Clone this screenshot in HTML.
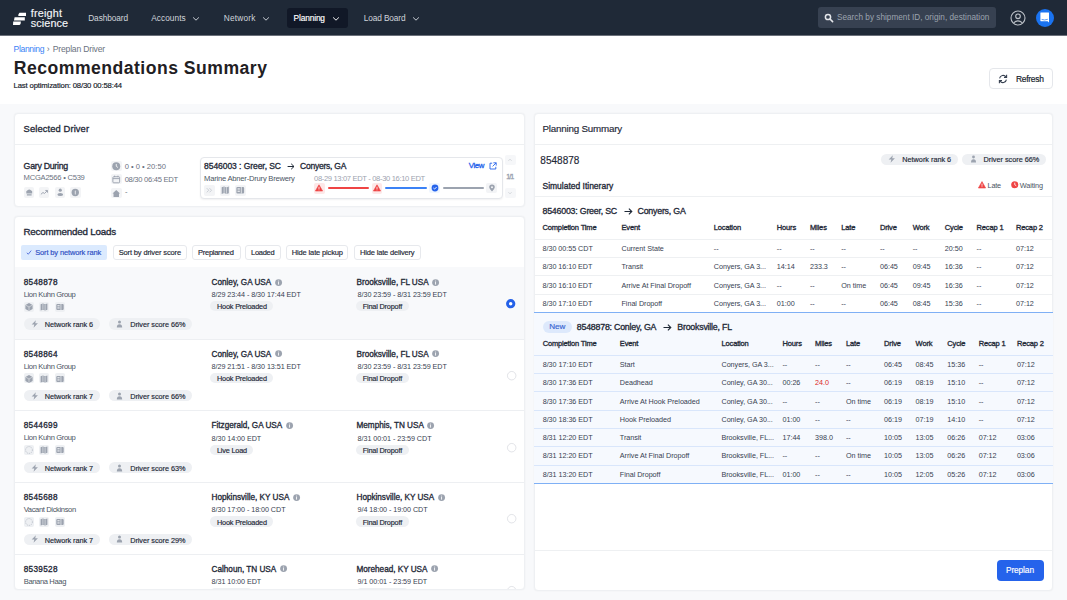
<!DOCTYPE html>
<html><head><meta charset="utf-8"><title>Recommendations Summary</title>
<style>
html,body{margin:0;padding:0;}
body{width:1067px;height:600px;position:relative;overflow:hidden;background:#f8f9fb;font-family:"Liberation Sans",sans-serif;}
.t{position:absolute;white-space:nowrap;line-height:1;}
.b{position:absolute;}
svg.b{overflow:visible;}
</style></head><body>
<div class="b" style="left:0px;top:0px;width:1067px;height:35px;background:#1f2937;"></div>
<svg class="b" style="left:12px;top:11px" width="16" height="16" viewBox="0 0 16 16"><path d="M7.5 1.7 H14 V5 H6.3 Q6 3.2 7.5 1.7Z" fill="#fff"/><path d="M2.6 6.2 H12.8 V9.5 H2 Z" fill="#fff"/><path d="M1.2 10.4 H8.9 Q9 12.6 7.6 14 H1 Z" fill="#fff"/></svg>
<div class="t" style="left:30.80px;top:7.76px;font-size:10.8px;-webkit-text-stroke-width:0.16px;color:#f3f4f6;letter-spacing:0.197px;">freight</div>
<div class="t" style="left:30.80px;top:17.66px;font-size:10.8px;-webkit-text-stroke-width:0.16px;color:#f3f4f6;letter-spacing:0.097px;">science</div>
<div class="t" style="left:88.20px;top:13.97px;font-size:8.3px;color:#d1d5db;letter-spacing:-0.076px;">Dashboard</div>
<div class="t" style="left:151.20px;top:13.97px;font-size:8.3px;color:#d1d5db;letter-spacing:0.051px;">Accounts</div>
<div class="t" style="left:223.70px;top:13.97px;font-size:8.3px;color:#d1d5db;letter-spacing:0.227px;">Network</div>
<div class="b" style="left:287px;top:8px;width:61px;height:20px;background:#111827;border-radius:3px;"></div>
<div class="t" style="left:293.60px;top:13.97px;font-size:8.3px;-webkit-text-stroke-width:0.16px;color:#ffffff;letter-spacing:-0.129px;">Planning</div>
<div class="t" style="left:363.70px;top:13.97px;font-size:8.3px;color:#d1d5db;letter-spacing:-0.113px;">Load Board</div>
<svg class="b" style="left:192px;top:15.7px" width="8" height="6" viewBox="0 0 8 6"><path d="M1.4 1.7 L4 4.2 L6.6 1.7" fill="none" stroke="#d1d5db" stroke-width="0.95" stroke-linecap="round" stroke-linejoin="round"/></svg>
<svg class="b" style="left:261.6px;top:15.7px" width="8" height="6" viewBox="0 0 8 6"><path d="M1.4 1.7 L4 4.2 L6.6 1.7" fill="none" stroke="#d1d5db" stroke-width="0.95" stroke-linecap="round" stroke-linejoin="round"/></svg>
<svg class="b" style="left:331.8px;top:15.7px" width="8" height="6" viewBox="0 0 8 6"><path d="M1.4 1.7 L4 4.2 L6.6 1.7" fill="none" stroke="#fff" stroke-width="0.95" stroke-linecap="round" stroke-linejoin="round"/></svg>
<svg class="b" style="left:411.6px;top:15.7px" width="8" height="6" viewBox="0 0 8 6"><path d="M1.4 1.7 L4 4.2 L6.6 1.7" fill="none" stroke="#d1d5db" stroke-width="0.95" stroke-linecap="round" stroke-linejoin="round"/></svg>
<div class="b" style="left:818px;top:7px;width:178px;height:21px;background:#374151;border-radius:3px;"></div>
<svg class="b" style="left:824px;top:13px" width="10" height="10" viewBox="0 0 10 10"><circle cx="4" cy="4" r="2.6" fill="none" stroke="#e5e7eb" stroke-width="1.5"/><path d="M6 6 L8.6 8.6" stroke="#e5e7eb" stroke-width="1.6" stroke-linecap="round"/></svg>
<div class="t" style="left:837.00px;top:13.56px;font-size:8.2px;color:#9ca3af;letter-spacing:0.018px;">Search by shipment ID, origin, destination</div>
<svg class="b" style="left:1010px;top:10px" width="16" height="16" viewBox="0 0 16 16"><circle cx="8" cy="8" r="7" fill="none" stroke="#bcc1c8" stroke-width="1.1"/><circle cx="8" cy="6.3" r="2.3" fill="none" stroke="#bcc1c8" stroke-width="1.1"/><path d="M3.6 12.8 Q8 8.8 12.4 12.8" fill="none" stroke="#bcc1c8" stroke-width="1.1"/></svg>
<svg class="b" style="left:1036px;top:9px" width="18" height="18" viewBox="0 0 18 18"><circle cx="9" cy="9" r="9" fill="#1a73f0"/><path d="M4.4 3.8 Q4.4 3.4 4.8 3.4 H12.6 Q13 3.4 13 3.8 V13.4 L11.6 12.2 H4.8 Q4.4 12.2 4.4 11.8 Z" fill="#fff"/><path d="M5.6 10.4 Q8.6 11.6 11.8 10.3" fill="none" stroke="#1a73f0" stroke-width="0.7"/></svg>
<div class="b" style="left:0px;top:35px;width:1067px;height:68.6px;background:#fff;border-bottom:1px solid #e8eaed;"></div>
<div class="b" style="left:0px;top:35px;width:1067px;height:1px;background:linear-gradient(#1a2230,#9a9ea6);opacity:0.9;"></div>
<div class="t" style="left:13.60px;top:44.92px;font-size:8.6px;color:#3b82f6;letter-spacing:-0.367px;">Planning</div>
<div class="t" style="left:46.80px;top:44.72px;font-size:8.6px;color:#6b7280;">›</div>
<div class="t" style="left:52.80px;top:44.92px;font-size:8.6px;color:#6b7280;letter-spacing:-0.197px;">Preplan Driver</div>
<div class="t" style="left:13.80px;top:60.30px;font-size:17.6px;font-weight:bold;color:#1f2023;letter-spacing:0.484px;">Recommendations Summary</div>
<div class="t" style="left:13.60px;top:81.68px;font-size:7.7px;-webkit-text-stroke-width:0.16px;color:#111827;letter-spacing:-0.148px;">Last optimization: 08/30 00:58:44</div>
<div class="b" style="left:988.6px;top:68.2px;width:64.8px;height:21.3px;background:#fff;border:1px solid #e5e7eb;border-radius:4px;box-sizing:border-box;"></div>
<svg class="b" style="left:998px;top:74px" width="10" height="10" viewBox="0 0 10 10"><path d="M1.6 4.4 A3.5 3.5 0 0 1 8 3" fill="none" stroke="#374151" stroke-width="1.1"/><path d="M8.6 0.8 V3.4 H6" fill="none" stroke="#374151" stroke-width="1.1"/><path d="M8.4 5.6 A3.5 3.5 0 0 1 2 7" fill="none" stroke="#374151" stroke-width="1.1"/><path d="M1.4 9.2 V6.6 H4" fill="none" stroke="#374151" stroke-width="1.1"/></svg>
<div class="t" style="left:1015.90px;top:74.80px;font-size:8.5px;-webkit-text-stroke-width:0.16px;color:#111827;letter-spacing:-0.277px;">Refresh</div>
<div class="b" style="left:0px;top:104px;width:1067px;height:496px;background:#f8f9fb;"></div>
<div class="b" style="left:14.4px;top:112.8px;width:510.4px;height:94.4px;background:#fff;border:1px solid #eef0f3;border-radius:4px;box-sizing:border-box;box-shadow:0 0 2px rgba(16,24,40,0.05);"></div>
<div class="b" style="left:15.4px;top:144px;width:508.4px;height:1px;background:#eef0f2;"></div>
<div class="t" style="left:23.60px;top:124.44px;font-size:9.4px;-webkit-text-stroke-width:0.32px;color:#1f2937;letter-spacing:0.096px;">Selected Driver</div>
<div class="t" style="left:23.60px;top:162.05px;font-size:8.8px;-webkit-text-stroke-width:0.32px;color:#1f2937;letter-spacing:-0.284px;">Gary During</div>
<div class="t" style="left:23.60px;top:174.37px;font-size:7.6px;color:#6b7280;letter-spacing:-0.247px;">MCGA2566 • C539</div>
<div class="b" style="left:23.6px;top:187.3px;width:10.5px;height:10.5px;background:#f3f4f6;border-radius:2px;"></div>
<svg class="b" style="left:23.6px;top:187.3px" width="10.5" height="10.5" viewBox="0 0 10 10"><path d="M2.2 6.3 Q1.6 3.6 3.4 3.2 Q5 1.6 6.6 3.2 Q8.4 3.6 7.8 6.3 Z" fill="#9ca3af"/><rect x="2.6" y="6.9" width="4.8" height="1.2" rx="0.4" fill="#9ca3af"/></svg>
<div class="b" style="left:38.9px;top:187.3px;width:10.5px;height:10.5px;background:#f3f4f6;border-radius:2px;"></div>
<svg class="b" style="left:38.9px;top:187.3px" width="10.5" height="10.5" viewBox="0 0 10 10"><path d="M1.8 7 L3.8 5.2 L5.2 6.2 L7.8 3.6 M6 3.3 H8.1 V5.4" fill="none" stroke="#9ca3af" stroke-width="0.9"/></svg>
<div class="b" style="left:54.6px;top:187.3px;width:10.5px;height:10.5px;background:#f3f4f6;border-radius:2px;"></div>
<svg class="b" style="left:54.6px;top:187.3px" width="10.5" height="10.5" viewBox="0 0 10 10"><circle cx="5" cy="3" r="1.5" fill="#9ca3af"/><ellipse cx="5" cy="7.1" rx="2.7" ry="1.5" fill="#9ca3af"/></svg>
<div class="b" style="left:70.3px;top:187.3px;width:10.5px;height:10.5px;background:#f3f4f6;border-radius:2px;"></div>
<svg class="b" style="left:70.3px;top:187.3px" width="10.5" height="10.5" viewBox="0 0 10 10"><circle cx="5" cy="5.2" r="3.5" fill="#9ca3af"/><rect x="4.6" y="3.4" width="0.8" height="3.8" rx="0.3" fill="#f3f4f6"/></svg>
<div class="b" style="left:111.1px;top:160.8px;width:10.8px;height:10.3px;background:#f3f4f6;border-radius:2px;"></div>
<svg class="b" style="left:111.3px;top:160.8px" width="10.5" height="10.5" viewBox="0 0 10 10"><circle cx="5" cy="5" r="3.8" fill="#9ca3af"/><path d="M5 2.8 V5 L6.6 6.2" fill="none" stroke="#fff" stroke-width="0.8"/></svg>
<div class="b" style="left:111.1px;top:173.9px;width:10.8px;height:10.3px;background:#f3f4f6;border-radius:2px;"></div>
<svg class="b" style="left:111.3px;top:173.9px" width="10.5" height="10.5" viewBox="0 0 10 10"><rect x="1.8" y="2.6" width="6.4" height="5.8" rx="0.8" fill="none" stroke="#9ca3af" stroke-width="0.9"/><path d="M1.8 4.4 H8.2 M3.4 1.6 V3 M6.6 1.6 V3" stroke="#9ca3af" stroke-width="0.9"/></svg>
<div class="b" style="left:111.1px;top:187.5px;width:10.8px;height:10.3px;background:#f3f4f6;border-radius:2px;"></div>
<svg class="b" style="left:111.3px;top:187.5px" width="10.5" height="10.5" viewBox="0 0 10 10"><path d="M1.4 5.2 L5 1.8 L8.6 5.2 H7.6 V8.6 H2.4 V5.2 Z" fill="#9ca3af"/></svg>
<div class="t" style="left:124.70px;top:162.67px;font-size:7.6px;color:#6b7280;letter-spacing:-0.003px;">0 • 0 • 20:50</div>
<div class="t" style="left:124.70px;top:175.77px;font-size:7.6px;color:#6b7280;letter-spacing:-0.290px;">08/30 06:45 EDT</div>
<div class="t" style="left:125.00px;top:187.77px;font-size:7.6px;color:#6b7280;">-</div>
<div class="b" style="left:199.5px;top:156.5px;width:303px;height:42px;background:#fff;border:1px solid #e5e7eb;border-radius:4px;box-sizing:border-box;box-shadow:0 1px 2px rgba(16,24,40,0.06);"></div>
<div class="t" style="left:204.10px;top:161.80px;font-size:8.5px;-webkit-text-stroke-width:0.32px;color:#1f2937;letter-spacing:-0.059px;">8546003 : Greer, SC</div>
<svg class="b" style="left:287px;top:162.5px" width="8" height="7" viewBox="0 0 8 7"><path d="M0.6 3.5 H7 M4.2 0.8 L7 3.5 L4.2 6.2" fill="none" stroke="#1f2937" stroke-width="1"/></svg>
<div class="t" style="left:300.00px;top:161.80px;font-size:8.5px;-webkit-text-stroke-width:0.32px;color:#1f2937;letter-spacing:-0.236px;">Conyers, GA</div>
<div class="t" style="left:468.80px;top:161.90px;font-size:7.8px;-webkit-text-stroke-width:0.32px;color:#2563eb;letter-spacing:-0.422px;">View</div>
<svg class="b" style="left:489px;top:162px" width="8" height="8" viewBox="0 0 8 8"><path d="M3.2 1.2 H1 V7 H6.8 V4.8" fill="none" stroke="#2563eb" stroke-width="0.9"/><path d="M4.4 0.8 H7.2 V3.6 M7.2 0.8 L3.6 4.4" fill="none" stroke="#2563eb" stroke-width="0.9"/></svg>
<div class="t" style="left:204.10px;top:174.57px;font-size:7.6px;color:#4b5563;letter-spacing:-0.216px;">Marine Abner-Drury Brewery</div>
<div class="t" style="left:314.00px;top:174.87px;font-size:7.6px;color:#9ca3af;letter-spacing:-0.346px;">08-29 13:07 EDT - 08-30 16:10 EDT</div>
<div class="b" style="left:203.9px;top:185.4px;width:10.7px;height:10.2px;background:#f3f4f6;border-radius:2px;"></div>
<svg class="b" style="left:204.0px;top:185.4px" width="10.5" height="10.5" viewBox="0 0 10 10"><path d="M2.6 3 L4.6 5 L2.6 7 M5.2 3 L7.2 5 L5.2 7" fill="none" stroke="#c4c8cf" stroke-width="0.8"/></svg>
<div class="b" style="left:219.7px;top:185.4px;width:10.7px;height:10.2px;background:#f3f4f6;border-radius:2px;"></div>
<svg class="b" style="left:219.79999999999998px;top:185.4px" width="10.5" height="10.5" viewBox="0 0 10 10"><path d="M1.6 2.2 L3.9 1.4 L6.1 2.3 L8.4 1.5 V7.8 L6.1 8.6 L3.9 7.7 L1.6 8.5 Z" fill="#9ca3af"/><path d="M3.9 1.6 V7.6 M6.1 2.4 V8.4" stroke="#f3f4f6" stroke-width="0.6"/></svg>
<div class="b" style="left:235.3px;top:185.4px;width:10.7px;height:10.2px;background:#f3f4f6;border-radius:2px;"></div>
<svg class="b" style="left:235.4px;top:185.4px" width="10.5" height="10.5" viewBox="0 0 10 10"><rect x="1.3" y="1.9" width="7.4" height="6.2" rx="1" fill="#9ca3af"/><rect x="2.4" y="3.2" width="2.2" height="1.1" fill="#f3f4f6"/><rect x="2.4" y="5.4" width="2.2" height="1.1" fill="#f3f4f6"/><rect x="5.6" y="1.9" width="0.7" height="6.2" fill="#f3f4f6"/></svg>
<div class="b" style="left:314px;top:182.89999999999998px;width:10.8px;height:10.9px;background:#fde8e8;border-radius:2px;"></div>
<svg class="b" style="left:314.4px;top:183.2px" width="10" height="10" viewBox="0 0 10 10"><path d="M5 1.8 L8.6 8 H1.4 Z" fill="#ef4444" stroke="#ef4444" stroke-width="0.6" stroke-linejoin="round"/><rect x="4.6" y="3.8" width="0.8" height="2.2" fill="#fff"/><rect x="4.6" y="6.5" width="0.8" height="0.8" fill="#fff"/></svg>
<div class="b" style="left:327.7px;top:187.4px;width:41.1px;height:2px;background:#ef4444;border-radius:1px;"></div>
<div class="b" style="left:371.5px;top:182.89999999999998px;width:10.8px;height:10.9px;background:#fde8e8;border-radius:2px;"></div>
<svg class="b" style="left:371.9px;top:183.2px" width="10" height="10" viewBox="0 0 10 10"><path d="M5 1.8 L8.6 8 H1.4 Z" fill="#ef4444" stroke="#ef4444" stroke-width="0.6" stroke-linejoin="round"/><rect x="4.6" y="3.8" width="0.8" height="2.2" fill="#fff"/><rect x="4.6" y="6.5" width="0.8" height="0.8" fill="#fff"/></svg>
<div class="b" style="left:385px;top:187.4px;width:41.5px;height:2px;background:#3b82f6;border-radius:1px;"></div>
<div class="b" style="left:429.3px;top:183.2px;width:10.8px;height:10.2px;background:#eff6ff;border-radius:2px;"></div>
<svg class="b" style="left:429.7px;top:183.2px" width="10" height="10" viewBox="0 0 10 10"><circle cx="5" cy="5" r="3.4" fill="#2563eb"/><path d="M3.4 5 L4.6 6.1 L6.6 4" fill="none" stroke="#fff" stroke-width="0.9"/></svg>
<div class="b" style="left:442.6px;top:187.4px;width:41.1px;height:2px;background:#9ca3af;border-radius:1px;"></div>
<div class="b" style="left:486.3px;top:183.2px;width:10.8px;height:10.2px;background:#f3f4f6;border-radius:2px;"></div>
<svg class="b" style="left:486.7px;top:183.2px" width="10" height="10" viewBox="0 0 10 10"><path d="M5 8.6 Q2.2 5.6 2.2 4.2 A2.8 2.8 0 0 1 7.8 4.2 Q7.8 5.6 5 8.6 Z" fill="#9ca3af"/><circle cx="5" cy="4.2" r="1" fill="#f3f4f6"/></svg>
<div class="b" style="left:505px;top:155px;width:10.5px;height:9.5px;background:#f6f7f9;border-radius:2px;"></div>
<svg class="b" style="left:506px;top:156px" width="8" height="8" viewBox="0 0 8 8"><path d="M2.4 4.8 L4 3.2 L5.6 4.8" fill="none" stroke="#c4c8cf" stroke-width="0.7"/></svg>
<div class="t" style="left:506.30px;top:172.51px;font-size:7.2px;-webkit-text-stroke-width:0.32px;color:#9ca3af;letter-spacing:-1.055px;">1/1</div>
<div class="b" style="left:505px;top:188.3px;width:10.5px;height:9.5px;background:#f6f7f9;border-radius:2px;"></div>
<svg class="b" style="left:506px;top:189px" width="8" height="8" viewBox="0 0 8 8"><path d="M2.4 3.2 L4 4.8 L5.6 3.2" fill="none" stroke="#c4c8cf" stroke-width="0.7"/></svg>
<div class="b" style="left:14.4px;top:216px;width:510.4px;height:373.7px;background:#fff;border:1px solid #eef0f3;border-radius:4px;box-sizing:border-box;box-shadow:0 0 2px rgba(16,24,40,0.05);overflow:hidden;"></div>
<div class="t" style="left:23.40px;top:227.20px;font-size:9.8px;-webkit-text-stroke-width:0.32px;color:#1f2937;letter-spacing:-0.193px;">Recommended Loads</div>
<div class="b" style="left:21.3px;top:245.3px;width:86.2px;height:15px;background:#dbeafe;border-radius:2px;"></div>
<svg class="b" style="left:25.5px;top:249px" width="6" height="7" viewBox="0 0 6 7"><path d="M0.8 3.8 L2.3 5.2 L5.2 1.6" fill="none" stroke="#3b5bd6" stroke-width="0.8"/></svg>
<div class="t" style="left:35.20px;top:249.35px;font-size:7.5px;-webkit-text-stroke-width:0.16px;color:#2f4fc4;letter-spacing:-0.141px;">Sort by network rank</div>
<div class="b" style="left:112.7px;top:245.3px;width:74.3px;height:15px;background:#fff;border:1px solid #e7e9ed;border-radius:3px;box-sizing:border-box;"></div>
<div class="t" style="left:118.70px;top:249.35px;font-size:7.5px;-webkit-text-stroke-width:0.16px;color:#1f2937;letter-spacing:-0.138px;">Sort by driver score</div>
<div class="b" style="left:191.9px;top:245.3px;width:48.69999999999999px;height:15px;background:#fff;border:1px solid #e7e9ed;border-radius:3px;box-sizing:border-box;"></div>
<div class="t" style="left:198.10px;top:249.35px;font-size:7.5px;-webkit-text-stroke-width:0.16px;color:#1f2937;letter-spacing:-0.285px;">Preplanned</div>
<div class="b" style="left:245.4px;top:245.3px;width:35.400000000000006px;height:15px;background:#fff;border:1px solid #e7e9ed;border-radius:3px;box-sizing:border-box;"></div>
<div class="t" style="left:251.10px;top:249.35px;font-size:7.5px;-webkit-text-stroke-width:0.16px;color:#1f2937;letter-spacing:-0.305px;">Loaded</div>
<div class="b" style="left:285.6px;top:245.3px;width:62.89999999999998px;height:15px;background:#fff;border:1px solid #e7e9ed;border-radius:3px;box-sizing:border-box;"></div>
<div class="t" style="left:291.80px;top:249.35px;font-size:7.5px;-webkit-text-stroke-width:0.16px;color:#1f2937;letter-spacing:-0.144px;">Hide late pickup</div>
<div class="b" style="left:353.8px;top:245.3px;width:67.19999999999999px;height:15px;background:#fff;border:1px solid #e7e9ed;border-radius:3px;box-sizing:border-box;"></div>
<div class="t" style="left:360.00px;top:249.35px;font-size:7.5px;-webkit-text-stroke-width:0.16px;color:#1f2937;letter-spacing:-0.172px;">Hide late delivery</div>
<div class="b" style="left:15.4px;top:266.7px;width:508.4px;height:1px;background:#eef0f2;"></div>
<div class="b" style="left:14.4px;top:267px;width:510.4px;height:322px;overflow:hidden;border-radius:0 0 4px 4px;">
<div class="b" style="left:1px;top:0.0px;width:508.4px;height:71.8px;background:#f8f9fb;"></div>
<div class="t" style="left:9.30px;top:11.96px;font-size:8.2px;-webkit-text-stroke-width:0.32px;color:#1f2937;letter-spacing:0.313px;">8548878</div>
<div class="t" style="left:9.30px;top:23.87px;font-size:7.6px;color:#4b5563;letter-spacing:-0.376px;">Lion Kuhn Group</div>
<div class="b" style="left:9.2px;top:34.69999999999999px;width:10.4px;height:10px;background:#eef0f3;border-radius:2px;"></div>
<svg class="b" style="left:9.4px;top:34.8px" width="10" height="10" viewBox="0 0 10 10"><path d="M5 1.1 L8.6 3 V7 L5 8.9 L1.4 7 V3 Z" fill="#9ca3af"/><path d="M1.6 3.1 L5 5 L8.4 3.1 M5 5 V8.8" fill="none" stroke="#eef0f3" stroke-width="0.55"/></svg>
<div class="b" style="left:24.4px;top:34.69999999999999px;width:10.4px;height:10px;background:#eef0f3;border-radius:2px;"></div>
<svg class="b" style="left:24.6px;top:34.8px" width="10" height="10" viewBox="0 0 10 10"><path d="M1.6 2.2 L3.9 1.4 L6.1 2.3 L8.4 1.5 V7.8 L6.1 8.6 L3.9 7.7 L1.6 8.5 Z" fill="#9ca3af"/><path d="M3.9 1.6 V7.6 M6.1 2.4 V8.4" stroke="#eef0f3" stroke-width="0.6"/></svg>
<div class="b" style="left:40.4px;top:34.69999999999999px;width:10.4px;height:10px;background:#eef0f3;border-radius:2px;"></div>
<svg class="b" style="left:40.6px;top:34.8px" width="10" height="10" viewBox="0 0 10 10"><rect x="1.3" y="1.9" width="7.4" height="6.2" rx="1" fill="#9ca3af"/><rect x="2.4" y="3.2" width="2.2" height="1.1" fill="#eef0f3"/><rect x="2.4" y="5.4" width="2.2" height="1.1" fill="#eef0f3"/><rect x="5.6" y="1.9" width="0.7" height="6.2" fill="#eef0f3"/></svg>
<div class="b" style="left:9.499999999999998px;top:51.39999999999998px;width:76.0px;height:11.2px;background:#eef0f3;border-radius:6px;"></div>
<svg class="b" style="left:16.5px;top:53.1px" width="7.6" height="8" viewBox="0 0 9 9.5"><path d="M5.8 0.2 L0.8 5.3 H4 L3 9.3 L8.2 3.9 H5 Z" fill="#9ca3af"/></svg>
<div class="t" style="left:30.30px;top:54.42px;font-size:7.3px;-webkit-text-stroke-width:0.16px;color:#1f2937;letter-spacing:-0.045px;">Network rank 6</div>
<div class="b" style="left:94.39999999999999px;top:51.39999999999998px;width:83.7px;height:11.2px;background:#eef0f3;border-radius:6px;"></div>
<svg class="b" style="left:102.0px;top:53.2px" width="7" height="8" viewBox="0 0 7 8"><circle cx="3.5" cy="1.9" r="1.5" fill="#9ca3af"/><path d="M0.8 7.6 Q0.8 4.2 3.5 4.2 Q6.2 4.2 6.2 7.6 Z" fill="#9ca3af"/></svg>
<div class="t" style="left:115.80px;top:54.42px;font-size:7.3px;-webkit-text-stroke-width:0.16px;color:#1f2937;letter-spacing:-0.045px;">Driver score 66%</div>
<div class="t" style="left:197.20px;top:12.06px;font-size:8.2px;-webkit-text-stroke-width:0.32px;color:#1f2937;letter-spacing:-0.017px;">Conley, GA USA</div>
<svg class="b" style="left:260.2px;top:11.5px" width="7.2" height="7.2" viewBox="0 0 10 10"><circle cx="5" cy="5" r="4.8" fill="#9ca3af"/><rect x="4.4" y="4.2" width="1.2" height="3.6" fill="#fff"/><circle cx="5" cy="2.7" r="0.7" fill="#fff"/></svg>
<div class="t" style="left:197.20px;top:24.31px;font-size:7.2px;color:#374151;letter-spacing:-0.056px;">8/29 23:44 - 8/30 17:44 EDT</div>
<div class="b" style="left:196.0px;top:34.10000000000002px;width:62.81911586538462px;height:10.4px;background:#eef0f3;border-radius:6px;"></div>
<div class="t" style="left:202.60px;top:36.42px;font-size:7.3px;-webkit-text-stroke-width:0.16px;color:#1f2937;letter-spacing:-0.181px;">Hook Preloaded</div>
<div class="t" style="left:342.10px;top:12.06px;font-size:8.2px;-webkit-text-stroke-width:0.32px;color:#1f2937;letter-spacing:-0.017px;">Brooksville, FL USA</div>
<svg class="b" style="left:417.6px;top:11.5px" width="7.2" height="7.2" viewBox="0 0 10 10"><circle cx="5" cy="5" r="4.8" fill="#9ca3af"/><rect x="4.4" y="4.2" width="1.2" height="3.6" fill="#fff"/><circle cx="5" cy="2.7" r="0.7" fill="#fff"/></svg>
<div class="t" style="left:343.20px;top:24.31px;font-size:7.2px;color:#374151;letter-spacing:-0.056px;">8/30 23:59 - 8/31 23:59 EDT</div>
<div class="b" style="left:342.1px;top:34.10000000000002px;width:52.306526562500004px;height:10.4px;background:#eef0f3;border-radius:6px;"></div>
<div class="t" style="left:348.30px;top:36.42px;font-size:7.3px;-webkit-text-stroke-width:0.16px;color:#1f2937;letter-spacing:-0.181px;">Final Dropoff</div>
<svg class="b" style="left:492.10px;top:32.10px" width="9.4" height="9.4" viewBox="0 0 10 10"><circle cx="5" cy="5" r="3.4" fill="#fff" stroke="#2461e8" stroke-width="3.1"/></svg>
<div class="b" style="left:1px;top:71.5px;width:508.4px;height:1px;background:#edeff2;"></div>
<div class="t" style="left:9.30px;top:83.66px;font-size:8.2px;-webkit-text-stroke-width:0.32px;color:#1f2937;letter-spacing:0.313px;">8548864</div>
<div class="t" style="left:9.30px;top:95.57px;font-size:7.6px;color:#4b5563;letter-spacing:-0.376px;">Lion Kuhn Group</div>
<div class="b" style="left:9.2px;top:106.39999999999999px;width:10.4px;height:10px;background:#eef0f3;border-radius:2px;"></div>
<svg class="b" style="left:9.4px;top:106.5px" width="10" height="10" viewBox="0 0 10 10"><path d="M5 1.1 L8.6 3 V7 L5 8.9 L1.4 7 V3 Z" fill="#9ca3af"/><path d="M1.6 3.1 L5 5 L8.4 3.1 M5 5 V8.8" fill="none" stroke="#eef0f3" stroke-width="0.55"/></svg>
<div class="b" style="left:24.4px;top:106.39999999999999px;width:10.4px;height:10px;background:#eef0f3;border-radius:2px;"></div>
<svg class="b" style="left:24.6px;top:106.5px" width="10" height="10" viewBox="0 0 10 10"><path d="M1.6 2.2 L3.9 1.4 L6.1 2.3 L8.4 1.5 V7.8 L6.1 8.6 L3.9 7.7 L1.6 8.5 Z" fill="#9ca3af"/><path d="M3.9 1.6 V7.6 M6.1 2.4 V8.4" stroke="#eef0f3" stroke-width="0.6"/></svg>
<div class="b" style="left:40.4px;top:106.39999999999999px;width:10.4px;height:10px;background:#eef0f3;border-radius:2px;"></div>
<svg class="b" style="left:40.6px;top:106.5px" width="10" height="10" viewBox="0 0 10 10"><rect x="1.3" y="1.9" width="7.4" height="6.2" rx="1" fill="#9ca3af"/><rect x="2.4" y="3.2" width="2.2" height="1.1" fill="#eef0f3"/><rect x="2.4" y="5.4" width="2.2" height="1.1" fill="#eef0f3"/><rect x="5.6" y="1.9" width="0.7" height="6.2" fill="#eef0f3"/></svg>
<div class="b" style="left:9.499999999999998px;top:123.09999999999998px;width:76.0px;height:11.2px;background:#eef0f3;border-radius:6px;"></div>
<svg class="b" style="left:16.5px;top:124.8px" width="7.6" height="8" viewBox="0 0 9 9.5"><path d="M5.8 0.2 L0.8 5.3 H4 L3 9.3 L8.2 3.9 H5 Z" fill="#9ca3af"/></svg>
<div class="t" style="left:30.30px;top:126.12px;font-size:7.3px;-webkit-text-stroke-width:0.16px;color:#1f2937;letter-spacing:-0.045px;">Network rank 7</div>
<div class="b" style="left:94.39999999999999px;top:123.09999999999998px;width:83.7px;height:11.2px;background:#eef0f3;border-radius:6px;"></div>
<svg class="b" style="left:102.0px;top:124.9px" width="7" height="8" viewBox="0 0 7 8"><circle cx="3.5" cy="1.9" r="1.5" fill="#9ca3af"/><path d="M0.8 7.6 Q0.8 4.2 3.5 4.2 Q6.2 4.2 6.2 7.6 Z" fill="#9ca3af"/></svg>
<div class="t" style="left:115.80px;top:126.12px;font-size:7.3px;-webkit-text-stroke-width:0.16px;color:#1f2937;letter-spacing:-0.045px;">Driver score 66%</div>
<div class="t" style="left:197.20px;top:83.76px;font-size:8.2px;-webkit-text-stroke-width:0.32px;color:#1f2937;letter-spacing:-0.017px;">Conley, GA USA</div>
<svg class="b" style="left:260.2px;top:83.2px" width="7.2" height="7.2" viewBox="0 0 10 10"><circle cx="5" cy="5" r="4.8" fill="#9ca3af"/><rect x="4.4" y="4.2" width="1.2" height="3.6" fill="#fff"/><circle cx="5" cy="2.7" r="0.7" fill="#fff"/></svg>
<div class="t" style="left:197.20px;top:96.01px;font-size:7.2px;color:#374151;letter-spacing:-0.056px;">8/29 21:51 - 8/30 13:51 EDT</div>
<div class="b" style="left:196.0px;top:105.80000000000003px;width:62.81911586538462px;height:10.4px;background:#eef0f3;border-radius:6px;"></div>
<div class="t" style="left:202.60px;top:108.12px;font-size:7.3px;-webkit-text-stroke-width:0.16px;color:#1f2937;letter-spacing:-0.181px;">Hook Preloaded</div>
<div class="t" style="left:342.10px;top:83.76px;font-size:8.2px;-webkit-text-stroke-width:0.32px;color:#1f2937;letter-spacing:-0.017px;">Brooksville, FL USA</div>
<svg class="b" style="left:417.6px;top:83.2px" width="7.2" height="7.2" viewBox="0 0 10 10"><circle cx="5" cy="5" r="4.8" fill="#9ca3af"/><rect x="4.4" y="4.2" width="1.2" height="3.6" fill="#fff"/><circle cx="5" cy="2.7" r="0.7" fill="#fff"/></svg>
<div class="t" style="left:343.20px;top:96.01px;font-size:7.2px;color:#374151;letter-spacing:-0.056px;">8/30 23:59 - 8/31 23:59 EDT</div>
<div class="b" style="left:342.1px;top:105.80000000000003px;width:52.306526562500004px;height:10.4px;background:#eef0f3;border-radius:6px;"></div>
<div class="t" style="left:348.30px;top:108.12px;font-size:7.3px;-webkit-text-stroke-width:0.16px;color:#1f2937;letter-spacing:-0.181px;">Final Dropoff</div>
<svg class="b" style="left:492.20px;top:103.80px" width="9.4" height="9.4" viewBox="0 0 10 10"><circle cx="5" cy="5" r="4.5" fill="#fff" stroke="#d6d9de" stroke-width="0.75"/></svg>
<div class="b" style="left:1px;top:143.20000000000002px;width:508.4px;height:1px;background:#edeff2;"></div>
<div class="t" style="left:9.30px;top:155.36px;font-size:8.2px;-webkit-text-stroke-width:0.32px;color:#1f2937;letter-spacing:0.313px;">8544699</div>
<div class="t" style="left:9.30px;top:167.27px;font-size:7.6px;color:#4b5563;letter-spacing:-0.376px;">Lion Kuhn Group</div>
<div class="b" style="left:9.2px;top:178.1px;width:10.4px;height:10px;background:#eef0f3;border-radius:2px;"></div>
<svg class="b" style="left:9.4px;top:178.2px" width="10" height="10" viewBox="0 0 10 10"><circle cx="5" cy="5" r="3.4" fill="none" stroke="#b8bdc6" stroke-width="0.9" stroke-dasharray="1.1 0.9"/></svg>
<div class="b" style="left:24.4px;top:178.1px;width:10.4px;height:10px;background:#eef0f3;border-radius:2px;"></div>
<svg class="b" style="left:24.6px;top:178.2px" width="10" height="10" viewBox="0 0 10 10"><path d="M1.6 2.2 L3.9 1.4 L6.1 2.3 L8.4 1.5 V7.8 L6.1 8.6 L3.9 7.7 L1.6 8.5 Z" fill="#9ca3af"/><path d="M3.9 1.6 V7.6 M6.1 2.4 V8.4" stroke="#eef0f3" stroke-width="0.6"/></svg>
<div class="b" style="left:40.4px;top:178.1px;width:10.4px;height:10px;background:#eef0f3;border-radius:2px;"></div>
<svg class="b" style="left:40.6px;top:178.2px" width="10" height="10" viewBox="0 0 10 10"><rect x="1.3" y="1.9" width="7.4" height="6.2" rx="1" fill="#9ca3af"/><rect x="2.4" y="3.2" width="2.2" height="1.1" fill="#eef0f3"/><rect x="2.4" y="5.4" width="2.2" height="1.1" fill="#eef0f3"/><rect x="5.6" y="1.9" width="0.7" height="6.2" fill="#eef0f3"/></svg>
<div class="b" style="left:9.499999999999998px;top:194.79999999999998px;width:76.0px;height:11.2px;background:#eef0f3;border-radius:6px;"></div>
<svg class="b" style="left:16.5px;top:196.5px" width="7.6" height="8" viewBox="0 0 9 9.5"><path d="M5.8 0.2 L0.8 5.3 H4 L3 9.3 L8.2 3.9 H5 Z" fill="#9ca3af"/></svg>
<div class="t" style="left:30.30px;top:197.82px;font-size:7.3px;-webkit-text-stroke-width:0.16px;color:#1f2937;letter-spacing:-0.045px;">Network rank 7</div>
<div class="b" style="left:94.39999999999999px;top:194.79999999999998px;width:83.7px;height:11.2px;background:#eef0f3;border-radius:6px;"></div>
<svg class="b" style="left:102.0px;top:196.6px" width="7" height="8" viewBox="0 0 7 8"><circle cx="3.5" cy="1.9" r="1.5" fill="#9ca3af"/><path d="M0.8 7.6 Q0.8 4.2 3.5 4.2 Q6.2 4.2 6.2 7.6 Z" fill="#9ca3af"/></svg>
<div class="t" style="left:115.80px;top:197.82px;font-size:7.3px;-webkit-text-stroke-width:0.16px;color:#1f2937;letter-spacing:-0.045px;">Driver score 63%</div>
<div class="t" style="left:197.20px;top:155.46px;font-size:8.2px;-webkit-text-stroke-width:0.32px;color:#1f2937;letter-spacing:-0.017px;">Fitzgerald, GA USA</div>
<svg class="b" style="left:271.2px;top:154.9px" width="7.2" height="7.2" viewBox="0 0 10 10"><circle cx="5" cy="5" r="4.8" fill="#9ca3af"/><rect x="4.4" y="4.2" width="1.2" height="3.6" fill="#fff"/><circle cx="5" cy="2.7" r="0.7" fill="#fff"/></svg>
<div class="t" style="left:197.20px;top:167.71px;font-size:7.2px;color:#374151;letter-spacing:-0.056px;">8/30 14:00 EDT</div>
<div class="b" style="left:196.0px;top:177.50000000000003px;width:43.03168653846154px;height:10.4px;background:#eef0f3;border-radius:6px;"></div>
<div class="t" style="left:202.60px;top:179.82px;font-size:7.3px;-webkit-text-stroke-width:0.16px;color:#1f2937;letter-spacing:-0.181px;">Live Load</div>
<div class="t" style="left:342.10px;top:155.46px;font-size:8.2px;-webkit-text-stroke-width:0.32px;color:#1f2937;letter-spacing:-0.017px;">Memphis, TN USA</div>
<svg class="b" style="left:412.8px;top:154.9px" width="7.2" height="7.2" viewBox="0 0 10 10"><circle cx="5" cy="5" r="4.8" fill="#9ca3af"/><rect x="4.4" y="4.2" width="1.2" height="3.6" fill="#fff"/><circle cx="5" cy="2.7" r="0.7" fill="#fff"/></svg>
<div class="t" style="left:343.20px;top:167.71px;font-size:7.2px;color:#374151;letter-spacing:-0.056px;">8/31 00:01 - 23:59 CDT</div>
<div class="b" style="left:342.1px;top:177.50000000000003px;width:52.306526562500004px;height:10.4px;background:#eef0f3;border-radius:6px;"></div>
<div class="t" style="left:348.30px;top:179.82px;font-size:7.3px;-webkit-text-stroke-width:0.16px;color:#1f2937;letter-spacing:-0.181px;">Final Dropoff</div>
<svg class="b" style="left:492.20px;top:175.50px" width="9.4" height="9.4" viewBox="0 0 10 10"><circle cx="5" cy="5" r="4.5" fill="#fff" stroke="#d6d9de" stroke-width="0.75"/></svg>
<div class="b" style="left:1px;top:214.90000000000003px;width:508.4px;height:1px;background:#edeff2;"></div>
<div class="t" style="left:9.30px;top:227.06px;font-size:8.2px;-webkit-text-stroke-width:0.32px;color:#1f2937;letter-spacing:0.313px;">8545688</div>
<div class="t" style="left:9.30px;top:238.97px;font-size:7.6px;color:#4b5563;letter-spacing:-0.376px;">Vacant Dickinson</div>
<div class="b" style="left:9.2px;top:249.8px;width:10.4px;height:10px;background:#eef0f3;border-radius:2px;"></div>
<svg class="b" style="left:9.4px;top:249.9px" width="10" height="10" viewBox="0 0 10 10"><circle cx="5" cy="5" r="3.4" fill="none" stroke="#b8bdc6" stroke-width="0.9" stroke-dasharray="1.1 0.9"/></svg>
<div class="b" style="left:24.4px;top:249.8px;width:10.4px;height:10px;background:#eef0f3;border-radius:2px;"></div>
<svg class="b" style="left:24.6px;top:249.9px" width="10" height="10" viewBox="0 0 10 10"><path d="M1.6 2.2 L3.9 1.4 L6.1 2.3 L8.4 1.5 V7.8 L6.1 8.6 L3.9 7.7 L1.6 8.5 Z" fill="#9ca3af"/><path d="M3.9 1.6 V7.6 M6.1 2.4 V8.4" stroke="#eef0f3" stroke-width="0.6"/></svg>
<div class="b" style="left:40.4px;top:249.8px;width:10.4px;height:10px;background:#eef0f3;border-radius:2px;"></div>
<svg class="b" style="left:40.6px;top:249.9px" width="10" height="10" viewBox="0 0 10 10"><rect x="1.3" y="1.9" width="7.4" height="6.2" rx="1" fill="#9ca3af"/><rect x="2.4" y="3.2" width="2.2" height="1.1" fill="#eef0f3"/><rect x="2.4" y="5.4" width="2.2" height="1.1" fill="#eef0f3"/><rect x="5.6" y="1.9" width="0.7" height="6.2" fill="#eef0f3"/></svg>
<div class="b" style="left:9.499999999999998px;top:266.5px;width:76.0px;height:11.2px;background:#eef0f3;border-radius:6px;"></div>
<svg class="b" style="left:16.5px;top:268.2px" width="7.6" height="8" viewBox="0 0 9 9.5"><path d="M5.8 0.2 L0.8 5.3 H4 L3 9.3 L8.2 3.9 H5 Z" fill="#9ca3af"/></svg>
<div class="t" style="left:30.30px;top:269.52px;font-size:7.3px;-webkit-text-stroke-width:0.16px;color:#1f2937;letter-spacing:-0.045px;">Network rank 7</div>
<div class="b" style="left:94.39999999999999px;top:266.5px;width:83.7px;height:11.2px;background:#eef0f3;border-radius:6px;"></div>
<svg class="b" style="left:102.0px;top:268.3px" width="7" height="8" viewBox="0 0 7 8"><circle cx="3.5" cy="1.9" r="1.5" fill="#9ca3af"/><path d="M0.8 7.6 Q0.8 4.2 3.5 4.2 Q6.2 4.2 6.2 7.6 Z" fill="#9ca3af"/></svg>
<div class="t" style="left:115.80px;top:269.52px;font-size:7.3px;-webkit-text-stroke-width:0.16px;color:#1f2937;letter-spacing:-0.045px;">Driver score 29%</div>
<div class="t" style="left:197.20px;top:227.16px;font-size:8.2px;-webkit-text-stroke-width:0.32px;color:#1f2937;letter-spacing:-0.017px;">Hopkinsville, KY USA</div>
<svg class="b" style="left:278.3px;top:226.6px" width="7.2" height="7.2" viewBox="0 0 10 10"><circle cx="5" cy="5" r="4.8" fill="#9ca3af"/><rect x="4.4" y="4.2" width="1.2" height="3.6" fill="#fff"/><circle cx="5" cy="2.7" r="0.7" fill="#fff"/></svg>
<div class="t" style="left:197.20px;top:239.41px;font-size:7.2px;color:#374151;letter-spacing:-0.056px;">8/30 17:00 - 18:00 CDT</div>
<div class="b" style="left:196.0px;top:249.20000000000005px;width:62.81911586538462px;height:10.4px;background:#eef0f3;border-radius:6px;"></div>
<div class="t" style="left:202.60px;top:251.52px;font-size:7.3px;-webkit-text-stroke-width:0.16px;color:#1f2937;letter-spacing:-0.181px;">Hook Preloaded</div>
<div class="t" style="left:342.10px;top:227.16px;font-size:8.2px;-webkit-text-stroke-width:0.32px;color:#1f2937;letter-spacing:-0.017px;">Hopkinsville, KY USA</div>
<svg class="b" style="left:423.2px;top:226.6px" width="7.2" height="7.2" viewBox="0 0 10 10"><circle cx="5" cy="5" r="4.8" fill="#9ca3af"/><rect x="4.4" y="4.2" width="1.2" height="3.6" fill="#fff"/><circle cx="5" cy="2.7" r="0.7" fill="#fff"/></svg>
<div class="t" style="left:343.20px;top:239.41px;font-size:7.2px;color:#374151;letter-spacing:-0.056px;">9/4 18:00 - 19:00 CDT</div>
<div class="b" style="left:342.1px;top:249.20000000000005px;width:52.306526562500004px;height:10.4px;background:#eef0f3;border-radius:6px;"></div>
<div class="t" style="left:348.30px;top:251.52px;font-size:7.3px;-webkit-text-stroke-width:0.16px;color:#1f2937;letter-spacing:-0.181px;">Final Dropoff</div>
<svg class="b" style="left:492.20px;top:247.20px" width="9.4" height="9.4" viewBox="0 0 10 10"><circle cx="5" cy="5" r="4.5" fill="#fff" stroke="#d6d9de" stroke-width="0.75"/></svg>
<div class="b" style="left:1px;top:286.6px;width:508.4px;height:1px;background:#edeff2;"></div>
<div class="t" style="left:9.30px;top:298.76px;font-size:8.2px;-webkit-text-stroke-width:0.32px;color:#1f2937;letter-spacing:0.313px;">8539528</div>
<div class="t" style="left:9.30px;top:310.67px;font-size:7.6px;color:#4b5563;letter-spacing:-0.376px;">Banana Haag</div>
<div class="b" style="left:9.2px;top:321.5px;width:10.4px;height:10px;background:#eef0f3;border-radius:2px;"></div>
<svg class="b" style="left:9.4px;top:321.6px" width="10" height="10" viewBox="0 0 10 10"><circle cx="5" cy="5" r="3.4" fill="none" stroke="#b8bdc6" stroke-width="0.9" stroke-dasharray="1.1 0.9"/></svg>
<div class="b" style="left:24.4px;top:321.5px;width:10.4px;height:10px;background:#eef0f3;border-radius:2px;"></div>
<svg class="b" style="left:24.6px;top:321.6px" width="10" height="10" viewBox="0 0 10 10"><path d="M1.6 2.2 L3.9 1.4 L6.1 2.3 L8.4 1.5 V7.8 L6.1 8.6 L3.9 7.7 L1.6 8.5 Z" fill="#9ca3af"/><path d="M3.9 1.6 V7.6 M6.1 2.4 V8.4" stroke="#eef0f3" stroke-width="0.6"/></svg>
<div class="b" style="left:40.4px;top:321.5px;width:10.4px;height:10px;background:#eef0f3;border-radius:2px;"></div>
<svg class="b" style="left:40.6px;top:321.6px" width="10" height="10" viewBox="0 0 10 10"><rect x="1.3" y="1.9" width="7.4" height="6.2" rx="1" fill="#9ca3af"/><rect x="2.4" y="3.2" width="2.2" height="1.1" fill="#eef0f3"/><rect x="2.4" y="5.4" width="2.2" height="1.1" fill="#eef0f3"/><rect x="5.6" y="1.9" width="0.7" height="6.2" fill="#eef0f3"/></svg>
<div class="b" style="left:9.499999999999998px;top:338.2px;width:76.0px;height:11.2px;background:#eef0f3;border-radius:6px;"></div>
<svg class="b" style="left:16.5px;top:339.9px" width="7.6" height="8" viewBox="0 0 9 9.5"><path d="M5.8 0.2 L0.8 5.3 H4 L3 9.3 L8.2 3.9 H5 Z" fill="#9ca3af"/></svg>
<div class="t" style="left:30.30px;top:341.22px;font-size:7.3px;-webkit-text-stroke-width:0.16px;color:#1f2937;letter-spacing:-0.045px;">Network rank 7</div>
<div class="b" style="left:94.39999999999999px;top:338.2px;width:83.7px;height:11.2px;background:#eef0f3;border-radius:6px;"></div>
<svg class="b" style="left:102.0px;top:340.0px" width="7" height="8" viewBox="0 0 7 8"><circle cx="3.5" cy="1.9" r="1.5" fill="#9ca3af"/><path d="M0.8 7.6 Q0.8 4.2 3.5 4.2 Q6.2 4.2 6.2 7.6 Z" fill="#9ca3af"/></svg>
<div class="t" style="left:115.80px;top:341.22px;font-size:7.3px;-webkit-text-stroke-width:0.16px;color:#1f2937;letter-spacing:-0.045px;">Driver score 63%</div>
<div class="t" style="left:197.20px;top:298.86px;font-size:8.2px;-webkit-text-stroke-width:0.32px;color:#1f2937;letter-spacing:-0.017px;">Calhoun, TN USA</div>
<svg class="b" style="left:265.2px;top:298.3px" width="7.2" height="7.2" viewBox="0 0 10 10"><circle cx="5" cy="5" r="4.8" fill="#9ca3af"/><rect x="4.4" y="4.2" width="1.2" height="3.6" fill="#fff"/><circle cx="5" cy="2.7" r="0.7" fill="#fff"/></svg>
<div class="t" style="left:197.20px;top:311.11px;font-size:7.2px;color:#374151;letter-spacing:-0.056px;">8/31 10:00 EDT</div>
<div class="b" style="left:196.0px;top:320.90000000000003px;width:43.03168653846154px;height:10.4px;background:#eef0f3;border-radius:6px;"></div>
<div class="t" style="left:202.60px;top:323.22px;font-size:7.3px;-webkit-text-stroke-width:0.16px;color:#1f2937;letter-spacing:-0.181px;">Live Load</div>
<div class="t" style="left:342.10px;top:298.86px;font-size:8.2px;-webkit-text-stroke-width:0.32px;color:#1f2937;letter-spacing:-0.017px;">Morehead, KY USA</div>
<svg class="b" style="left:416.4px;top:298.3px" width="7.2" height="7.2" viewBox="0 0 10 10"><circle cx="5" cy="5" r="4.8" fill="#9ca3af"/><rect x="4.4" y="4.2" width="1.2" height="3.6" fill="#fff"/><circle cx="5" cy="2.7" r="0.7" fill="#fff"/></svg>
<div class="t" style="left:343.20px;top:311.11px;font-size:7.2px;color:#374151;letter-spacing:-0.056px;">9/1 00:01 - 23:59 EDT</div>
<div class="b" style="left:342.1px;top:320.90000000000003px;width:52.306526562500004px;height:10.4px;background:#eef0f3;border-radius:6px;"></div>
<div class="t" style="left:348.30px;top:323.22px;font-size:7.3px;-webkit-text-stroke-width:0.16px;color:#1f2937;letter-spacing:-0.181px;">Final Dropoff</div>
<svg class="b" style="left:492.20px;top:318.90px" width="9.4" height="9.4" viewBox="0 0 10 10"><circle cx="5" cy="5" r="4.5" fill="#fff" stroke="#d6d9de" stroke-width="0.75"/></svg>
</div>
<div class="b" style="left:533.5px;top:112.8px;width:519.2px;height:478px;background:#fff;border:1px solid #eef0f3;border-radius:4px;box-sizing:border-box;box-shadow:0 0 2px rgba(16,24,40,0.05);"></div>
<div class="b" style="left:534.5px;top:144px;width:517px;height:1px;background:#eef0f2;"></div>
<div class="t" style="left:542.50px;top:124.40px;font-size:9.8px;-webkit-text-stroke-width:0.16px;color:#1f2937;letter-spacing:-0.206px;">Planning Summary</div>
<div class="t" style="left:540.30px;top:156.13px;font-size:10px;-webkit-text-stroke-width:0.16px;color:#1f2937;letter-spacing:0.028px;">8548878</div>
<div class="b" style="left:881px;top:153.7px;width:77px;height:11.1px;background:#eef0f3;border-radius:6px;"></div>
<svg class="b" style="left:888.2px;top:155.2px" width="7.6" height="8" viewBox="0 0 9 9.5"><path d="M5.8 0.2 L0.8 5.3 H4 L3 9.3 L8.2 3.9 H5 Z" fill="#9ca3af"/></svg>
<div class="t" style="left:902.30px;top:155.72px;font-size:7.3px;-webkit-text-stroke-width:0.16px;color:#1f2937;letter-spacing:-0.015px;">Network rank 6</div>
<div class="b" style="left:962.4px;top:153.7px;width:83.39999999999998px;height:11.1px;background:#eef0f3;border-radius:6px;"></div>
<svg class="b" style="left:970.4px;top:155.3px" width="7" height="8" viewBox="0 0 7 8"><circle cx="3.5" cy="2" r="1.4" fill="#9ca3af"/><path d="M1 7.4 Q1 4.2 3.5 4.2 Q6 4.2 6 7.4 Z" fill="#9ca3af"/></svg>
<div class="t" style="left:983.60px;top:155.72px;font-size:7.3px;-webkit-text-stroke-width:0.16px;color:#1f2937;letter-spacing:-0.015px;">Driver score 66%</div>
<div class="t" style="left:542.50px;top:182.10px;font-size:8.5px;-webkit-text-stroke-width:0.32px;color:#1f2937;letter-spacing:-0.009px;">Simulated Itinerary</div>
<svg class="b" style="left:978.4px;top:181px" width="8" height="7.5" viewBox="0 0 8 7.5"><path d="M4 0.6 L7.6 7 H0.4 Z" fill="#ef4444" stroke="#ef4444" stroke-width="0.6" stroke-linejoin="round"/><rect x="3.6" y="2.6" width="0.8" height="2.2" fill="#fff"/><rect x="3.6" y="5.3" width="0.8" height="0.8" fill="#fff"/></svg>
<div class="t" style="left:987.60px;top:181.82px;font-size:7.3px;color:#4b5563;letter-spacing:-0.269px;">Late</div>
<svg class="b" style="left:1010.8px;top:181px" width="7.5" height="7.5" viewBox="0 0 8 8"><circle cx="4" cy="4" r="3.8" fill="#ef4444"/><path d="M4 1.8 V4 L5.6 5" fill="none" stroke="#fff" stroke-width="0.9"/></svg>
<div class="t" style="left:1019.80px;top:181.82px;font-size:7.3px;color:#4b5563;letter-spacing:-0.128px;">Waiting</div>
<div class="b" style="left:534.5px;top:196.2px;width:517px;height:1px;background:#eef0f2;"></div>
<div class="t" style="left:542.50px;top:207.05px;font-size:8.8px;-webkit-text-stroke-width:0.32px;color:#1f2937;letter-spacing:-0.210px;">8546003: Greer, SC</div>
<svg class="b" style="left:623.7px;top:208.10000000000002px" width="8.6" height="7" viewBox="0 0 8.6 7"><path d="M0.5 3.5 H7.8 M4.9 0.6 L7.8 3.5 L4.9 6.4" fill="none" stroke="#1f2937" stroke-width="1.1"/></svg>
<div class="t" style="left:637.50px;top:207.05px;font-size:8.8px;-webkit-text-stroke-width:0.32px;color:#1f2937;letter-spacing:-0.210px;">Conyers, GA</div>
<div class="t" style="left:542.50px;top:224.05px;font-size:7.5px;-webkit-text-stroke-width:0.32px;color:#1f2937;letter-spacing:-0.155px;">Completion Time</div>
<div class="t" style="left:621.50px;top:224.05px;font-size:7.5px;-webkit-text-stroke-width:0.32px;color:#1f2937;letter-spacing:-0.155px;">Event</div>
<div class="t" style="left:713.80px;top:224.05px;font-size:7.5px;-webkit-text-stroke-width:0.32px;color:#1f2937;letter-spacing:-0.155px;">Location</div>
<div class="t" style="left:776.80px;top:224.05px;font-size:7.5px;-webkit-text-stroke-width:0.32px;color:#1f2937;letter-spacing:-0.155px;">Hours</div>
<div class="t" style="left:810.00px;top:224.05px;font-size:7.5px;-webkit-text-stroke-width:0.32px;color:#1f2937;letter-spacing:-0.155px;">Miles</div>
<div class="t" style="left:841.20px;top:224.05px;font-size:7.5px;-webkit-text-stroke-width:0.32px;color:#1f2937;letter-spacing:-0.155px;">Late</div>
<div class="t" style="left:880.00px;top:224.05px;font-size:7.5px;-webkit-text-stroke-width:0.32px;color:#1f2937;letter-spacing:-0.155px;">Drive</div>
<div class="t" style="left:912.70px;top:224.05px;font-size:7.5px;-webkit-text-stroke-width:0.32px;color:#1f2937;letter-spacing:-0.155px;">Work</div>
<div class="t" style="left:944.80px;top:224.05px;font-size:7.5px;-webkit-text-stroke-width:0.32px;color:#1f2937;letter-spacing:-0.155px;">Cycle</div>
<div class="t" style="left:976.60px;top:224.05px;font-size:7.5px;-webkit-text-stroke-width:0.32px;color:#1f2937;letter-spacing:-0.155px;">Recap 1</div>
<div class="t" style="left:1016.00px;top:224.05px;font-size:7.5px;-webkit-text-stroke-width:0.32px;color:#1f2937;letter-spacing:-0.155px;">Recap 2</div>
<div class="b" style="left:534.5px;top:238.7px;width:517px;height:1px;background:#eef0f2;"></div>
<div class="t" style="left:542.50px;top:244.91px;font-size:7.2px;color:#374151;letter-spacing:-0.033px;">8/30 00:55 CDT</div>
<div class="t" style="left:621.50px;top:244.91px;font-size:7.2px;color:#374151;letter-spacing:-0.033px;">Current State</div>
<div class="t" style="left:713.80px;top:244.91px;font-size:7.2px;color:#374151;letter-spacing:-0.033px;">--</div>
<div class="t" style="left:776.80px;top:244.91px;font-size:7.2px;color:#374151;letter-spacing:-0.033px;">--</div>
<div class="t" style="left:810.00px;top:244.91px;font-size:7.2px;color:#374151;letter-spacing:-0.033px;">--</div>
<div class="t" style="left:841.20px;top:244.91px;font-size:7.2px;color:#374151;letter-spacing:-0.033px;">--</div>
<div class="t" style="left:880.00px;top:244.91px;font-size:7.2px;color:#374151;letter-spacing:-0.033px;">--</div>
<div class="t" style="left:912.70px;top:244.91px;font-size:7.2px;color:#374151;letter-spacing:-0.033px;">--</div>
<div class="t" style="left:944.80px;top:244.91px;font-size:7.2px;color:#374151;letter-spacing:-0.033px;">20:50</div>
<div class="t" style="left:976.60px;top:244.91px;font-size:7.2px;color:#374151;letter-spacing:-0.033px;">--</div>
<div class="t" style="left:1016.00px;top:244.91px;font-size:7.2px;color:#374151;letter-spacing:-0.033px;">07:12</div>
<div class="b" style="left:534.5px;top:256.9px;width:517px;height:1px;background:#eef0f2;"></div>
<div class="t" style="left:542.50px;top:263.21px;font-size:7.2px;color:#374151;letter-spacing:-0.033px;">8/30 16:10 EDT</div>
<div class="t" style="left:621.50px;top:263.21px;font-size:7.2px;color:#374151;letter-spacing:-0.033px;">Transit</div>
<div class="t" style="left:713.80px;top:263.21px;font-size:7.2px;color:#374151;letter-spacing:-0.033px;">Conyers, GA 3...</div>
<div class="t" style="left:776.80px;top:263.21px;font-size:7.2px;color:#374151;letter-spacing:-0.033px;">14:14</div>
<div class="t" style="left:810.00px;top:263.21px;font-size:7.2px;color:#374151;letter-spacing:-0.033px;">233.3</div>
<div class="t" style="left:841.20px;top:263.21px;font-size:7.2px;color:#374151;letter-spacing:-0.033px;">--</div>
<div class="t" style="left:880.00px;top:263.21px;font-size:7.2px;color:#374151;letter-spacing:-0.033px;">06:45</div>
<div class="t" style="left:912.70px;top:263.21px;font-size:7.2px;color:#374151;letter-spacing:-0.033px;">09:45</div>
<div class="t" style="left:944.80px;top:263.21px;font-size:7.2px;color:#374151;letter-spacing:-0.033px;">16:36</div>
<div class="t" style="left:976.60px;top:263.21px;font-size:7.2px;color:#374151;letter-spacing:-0.033px;">--</div>
<div class="t" style="left:1016.00px;top:263.21px;font-size:7.2px;color:#374151;letter-spacing:-0.033px;">07:12</div>
<div class="b" style="left:534.5px;top:275.2px;width:517px;height:1px;background:#eef0f2;"></div>
<div class="t" style="left:542.50px;top:281.51px;font-size:7.2px;color:#374151;letter-spacing:-0.033px;">8/30 16:10 EDT</div>
<div class="t" style="left:621.50px;top:281.51px;font-size:7.2px;color:#374151;letter-spacing:-0.033px;">Arrive At Final Dropoff</div>
<div class="t" style="left:713.80px;top:281.51px;font-size:7.2px;color:#374151;letter-spacing:-0.033px;">Conyers, GA 3...</div>
<div class="t" style="left:776.80px;top:281.51px;font-size:7.2px;color:#374151;letter-spacing:-0.033px;">--</div>
<div class="t" style="left:810.00px;top:281.51px;font-size:7.2px;color:#374151;letter-spacing:-0.033px;">--</div>
<div class="t" style="left:841.20px;top:281.51px;font-size:7.2px;color:#374151;letter-spacing:-0.033px;">On time</div>
<div class="t" style="left:880.00px;top:281.51px;font-size:7.2px;color:#374151;letter-spacing:-0.033px;">06:45</div>
<div class="t" style="left:912.70px;top:281.51px;font-size:7.2px;color:#374151;letter-spacing:-0.033px;">09:45</div>
<div class="t" style="left:944.80px;top:281.51px;font-size:7.2px;color:#374151;letter-spacing:-0.033px;">16:36</div>
<div class="t" style="left:976.60px;top:281.51px;font-size:7.2px;color:#374151;letter-spacing:-0.033px;">--</div>
<div class="t" style="left:1016.00px;top:281.51px;font-size:7.2px;color:#374151;letter-spacing:-0.033px;">07:12</div>
<div class="b" style="left:534.5px;top:293.5px;width:517px;height:1px;background:#eef0f2;"></div>
<div class="t" style="left:542.50px;top:299.81px;font-size:7.2px;color:#374151;letter-spacing:-0.033px;">8/30 17:10 EDT</div>
<div class="t" style="left:621.50px;top:299.81px;font-size:7.2px;color:#374151;letter-spacing:-0.033px;">Final Dropoff</div>
<div class="t" style="left:713.80px;top:299.81px;font-size:7.2px;color:#374151;letter-spacing:-0.033px;">Conyers, GA 3...</div>
<div class="t" style="left:776.80px;top:299.81px;font-size:7.2px;color:#374151;letter-spacing:-0.033px;">01:00</div>
<div class="t" style="left:810.00px;top:299.81px;font-size:7.2px;color:#374151;letter-spacing:-0.033px;">--</div>
<div class="t" style="left:841.20px;top:299.81px;font-size:7.2px;color:#374151;letter-spacing:-0.033px;">--</div>
<div class="t" style="left:880.00px;top:299.81px;font-size:7.2px;color:#374151;letter-spacing:-0.033px;">06:45</div>
<div class="t" style="left:912.70px;top:299.81px;font-size:7.2px;color:#374151;letter-spacing:-0.033px;">08:45</div>
<div class="t" style="left:944.80px;top:299.81px;font-size:7.2px;color:#374151;letter-spacing:-0.033px;">15:36</div>
<div class="t" style="left:976.60px;top:299.81px;font-size:7.2px;color:#374151;letter-spacing:-0.033px;">--</div>
<div class="t" style="left:1016.00px;top:299.81px;font-size:7.2px;color:#374151;letter-spacing:-0.033px;">07:12</div>
<div class="b" style="left:533.5px;top:312.2px;width:519px;height:171.5px;background:#f6f9fe;border-top:1px solid #7fb0f5;border-bottom:1px solid #7fb0f5;box-sizing:border-box;"></div>
<div class="b" style="left:542.7px;top:321.3px;width:29.2px;height:11.3px;background:#dde9fc;border-radius:6px;"></div>
<div class="t" style="left:549.20px;top:323.34px;font-size:8.1px;-webkit-text-stroke-width:0.16px;color:#3563d1;letter-spacing:-0.002px;">New</div>
<div class="t" style="left:576.80px;top:322.85px;font-size:8.8px;-webkit-text-stroke-width:0.32px;color:#1f2937;letter-spacing:-0.210px;">8548878: Conley, GA</div>
<svg class="b" style="left:663.3000000000001px;top:323.90000000000003px" width="8.6" height="7" viewBox="0 0 8.6 7"><path d="M0.5 3.5 H7.8 M4.9 0.6 L7.8 3.5 L4.9 6.4" fill="none" stroke="#1f2937" stroke-width="1.1"/></svg>
<div class="t" style="left:677.30px;top:322.85px;font-size:8.8px;-webkit-text-stroke-width:0.32px;color:#1f2937;letter-spacing:-0.210px;">Brooksville, FL</div>
<div class="t" style="left:542.70px;top:339.85px;font-size:7.5px;-webkit-text-stroke-width:0.32px;color:#1f2937;letter-spacing:-0.155px;">Completion Time</div>
<div class="t" style="left:619.80px;top:339.85px;font-size:7.5px;-webkit-text-stroke-width:0.32px;color:#1f2937;letter-spacing:-0.155px;">Event</div>
<div class="t" style="left:721.50px;top:339.85px;font-size:7.5px;-webkit-text-stroke-width:0.32px;color:#1f2937;letter-spacing:-0.155px;">Location</div>
<div class="t" style="left:782.50px;top:339.85px;font-size:7.5px;-webkit-text-stroke-width:0.32px;color:#1f2937;letter-spacing:-0.155px;">Hours</div>
<div class="t" style="left:815.10px;top:339.85px;font-size:7.5px;-webkit-text-stroke-width:0.32px;color:#1f2937;letter-spacing:-0.155px;">Miles</div>
<div class="t" style="left:846.00px;top:339.85px;font-size:7.5px;-webkit-text-stroke-width:0.32px;color:#1f2937;letter-spacing:-0.155px;">Late</div>
<div class="t" style="left:884.10px;top:339.85px;font-size:7.5px;-webkit-text-stroke-width:0.32px;color:#1f2937;letter-spacing:-0.155px;">Drive</div>
<div class="t" style="left:915.60px;top:339.85px;font-size:7.5px;-webkit-text-stroke-width:0.32px;color:#1f2937;letter-spacing:-0.155px;">Work</div>
<div class="t" style="left:947.30px;top:339.85px;font-size:7.5px;-webkit-text-stroke-width:0.32px;color:#1f2937;letter-spacing:-0.155px;">Cycle</div>
<div class="t" style="left:978.70px;top:339.85px;font-size:7.5px;-webkit-text-stroke-width:0.32px;color:#1f2937;letter-spacing:-0.155px;">Recap 1</div>
<div class="t" style="left:1016.90px;top:339.85px;font-size:7.5px;-webkit-text-stroke-width:0.32px;color:#1f2937;letter-spacing:-0.155px;">Recap 2</div>
<div class="b" style="left:533.5px;top:354.8px;width:519px;height:1px;background:#d9e6fb;"></div>
<div class="t" style="left:542.70px;top:360.91px;font-size:7.2px;color:#374151;letter-spacing:-0.033px;">8/30 17:10 EDT</div>
<div class="t" style="left:619.80px;top:360.91px;font-size:7.2px;color:#374151;letter-spacing:-0.033px;">Start</div>
<div class="t" style="left:721.50px;top:360.91px;font-size:7.2px;color:#374151;letter-spacing:-0.033px;">Conyers, GA 3...</div>
<div class="t" style="left:782.50px;top:360.91px;font-size:7.2px;color:#374151;letter-spacing:-0.033px;">--</div>
<div class="t" style="left:815.10px;top:360.91px;font-size:7.2px;color:#374151;letter-spacing:-0.033px;">--</div>
<div class="t" style="left:846.00px;top:360.91px;font-size:7.2px;color:#374151;letter-spacing:-0.033px;">--</div>
<div class="t" style="left:884.10px;top:360.91px;font-size:7.2px;color:#374151;letter-spacing:-0.033px;">06:45</div>
<div class="t" style="left:915.60px;top:360.91px;font-size:7.2px;color:#374151;letter-spacing:-0.033px;">08:45</div>
<div class="t" style="left:947.30px;top:360.91px;font-size:7.2px;color:#374151;letter-spacing:-0.033px;">15:36</div>
<div class="t" style="left:978.70px;top:360.91px;font-size:7.2px;color:#374151;letter-spacing:-0.033px;">--</div>
<div class="t" style="left:1016.90px;top:360.91px;font-size:7.2px;color:#374151;letter-spacing:-0.033px;">07:12</div>
<div class="b" style="left:533.5px;top:373.0px;width:519px;height:1px;background:#d9e6fb;"></div>
<div class="t" style="left:542.70px;top:379.21px;font-size:7.2px;color:#374151;letter-spacing:-0.033px;">8/30 17:36 EDT</div>
<div class="t" style="left:619.80px;top:379.21px;font-size:7.2px;color:#374151;letter-spacing:-0.033px;">Deadhead</div>
<div class="t" style="left:721.50px;top:379.21px;font-size:7.2px;color:#374151;letter-spacing:-0.033px;">Conley, GA 30...</div>
<div class="t" style="left:782.50px;top:379.21px;font-size:7.2px;color:#374151;letter-spacing:-0.033px;">00:26</div>
<div class="t" style="left:815.10px;top:379.21px;font-size:7.2px;color:#dc2626;letter-spacing:-0.033px;">24.0</div>
<div class="t" style="left:846.00px;top:379.21px;font-size:7.2px;color:#374151;letter-spacing:-0.033px;">--</div>
<div class="t" style="left:884.10px;top:379.21px;font-size:7.2px;color:#374151;letter-spacing:-0.033px;">06:19</div>
<div class="t" style="left:915.60px;top:379.21px;font-size:7.2px;color:#374151;letter-spacing:-0.033px;">08:19</div>
<div class="t" style="left:947.30px;top:379.21px;font-size:7.2px;color:#374151;letter-spacing:-0.033px;">15:10</div>
<div class="t" style="left:978.70px;top:379.21px;font-size:7.2px;color:#374151;letter-spacing:-0.033px;">--</div>
<div class="t" style="left:1016.90px;top:379.21px;font-size:7.2px;color:#374151;letter-spacing:-0.033px;">07:12</div>
<div class="b" style="left:533.5px;top:391.3px;width:519px;height:1px;background:#d9e6fb;"></div>
<div class="t" style="left:542.70px;top:397.51px;font-size:7.2px;color:#374151;letter-spacing:-0.033px;">8/30 17:36 EDT</div>
<div class="t" style="left:619.80px;top:397.51px;font-size:7.2px;color:#374151;letter-spacing:-0.033px;">Arrive At Hook Preloaded</div>
<div class="t" style="left:721.50px;top:397.51px;font-size:7.2px;color:#374151;letter-spacing:-0.033px;">Conley, GA 30...</div>
<div class="t" style="left:782.50px;top:397.51px;font-size:7.2px;color:#374151;letter-spacing:-0.033px;">--</div>
<div class="t" style="left:815.10px;top:397.51px;font-size:7.2px;color:#374151;letter-spacing:-0.033px;">--</div>
<div class="t" style="left:846.00px;top:397.51px;font-size:7.2px;color:#374151;letter-spacing:-0.033px;">On time</div>
<div class="t" style="left:884.10px;top:397.51px;font-size:7.2px;color:#374151;letter-spacing:-0.033px;">06:19</div>
<div class="t" style="left:915.60px;top:397.51px;font-size:7.2px;color:#374151;letter-spacing:-0.033px;">08:19</div>
<div class="t" style="left:947.30px;top:397.51px;font-size:7.2px;color:#374151;letter-spacing:-0.033px;">15:10</div>
<div class="t" style="left:978.70px;top:397.51px;font-size:7.2px;color:#374151;letter-spacing:-0.033px;">--</div>
<div class="t" style="left:1016.90px;top:397.51px;font-size:7.2px;color:#374151;letter-spacing:-0.033px;">07:12</div>
<div class="b" style="left:533.5px;top:409.6px;width:519px;height:1px;background:#d9e6fb;"></div>
<div class="t" style="left:542.70px;top:415.81px;font-size:7.2px;color:#374151;letter-spacing:-0.033px;">8/30 18:36 EDT</div>
<div class="t" style="left:619.80px;top:415.81px;font-size:7.2px;color:#374151;letter-spacing:-0.033px;">Hook Preloaded</div>
<div class="t" style="left:721.50px;top:415.81px;font-size:7.2px;color:#374151;letter-spacing:-0.033px;">Conley, GA 30...</div>
<div class="t" style="left:782.50px;top:415.81px;font-size:7.2px;color:#374151;letter-spacing:-0.033px;">01:00</div>
<div class="t" style="left:815.10px;top:415.81px;font-size:7.2px;color:#374151;letter-spacing:-0.033px;">--</div>
<div class="t" style="left:846.00px;top:415.81px;font-size:7.2px;color:#374151;letter-spacing:-0.033px;">--</div>
<div class="t" style="left:884.10px;top:415.81px;font-size:7.2px;color:#374151;letter-spacing:-0.033px;">06:19</div>
<div class="t" style="left:915.60px;top:415.81px;font-size:7.2px;color:#374151;letter-spacing:-0.033px;">07:19</div>
<div class="t" style="left:947.30px;top:415.81px;font-size:7.2px;color:#374151;letter-spacing:-0.033px;">14:10</div>
<div class="t" style="left:978.70px;top:415.81px;font-size:7.2px;color:#374151;letter-spacing:-0.033px;">--</div>
<div class="t" style="left:1016.90px;top:415.81px;font-size:7.2px;color:#374151;letter-spacing:-0.033px;">07:12</div>
<div class="b" style="left:533.5px;top:427.9px;width:519px;height:1px;background:#d9e6fb;"></div>
<div class="t" style="left:542.70px;top:434.11px;font-size:7.2px;color:#374151;letter-spacing:-0.033px;">8/31 12:20 EDT</div>
<div class="t" style="left:619.80px;top:434.11px;font-size:7.2px;color:#374151;letter-spacing:-0.033px;">Transit</div>
<div class="t" style="left:721.50px;top:434.11px;font-size:7.2px;color:#374151;letter-spacing:-0.033px;">Brooksville, FL...</div>
<div class="t" style="left:782.50px;top:434.11px;font-size:7.2px;color:#374151;letter-spacing:-0.033px;">17:44</div>
<div class="t" style="left:815.10px;top:434.11px;font-size:7.2px;color:#374151;letter-spacing:-0.033px;">398.0</div>
<div class="t" style="left:846.00px;top:434.11px;font-size:7.2px;color:#374151;letter-spacing:-0.033px;">--</div>
<div class="t" style="left:884.10px;top:434.11px;font-size:7.2px;color:#374151;letter-spacing:-0.033px;">10:05</div>
<div class="t" style="left:915.60px;top:434.11px;font-size:7.2px;color:#374151;letter-spacing:-0.033px;">13:05</div>
<div class="t" style="left:947.30px;top:434.11px;font-size:7.2px;color:#374151;letter-spacing:-0.033px;">06:26</div>
<div class="t" style="left:978.70px;top:434.11px;font-size:7.2px;color:#374151;letter-spacing:-0.033px;">07:12</div>
<div class="t" style="left:1016.90px;top:434.11px;font-size:7.2px;color:#374151;letter-spacing:-0.033px;">03:06</div>
<div class="b" style="left:533.5px;top:446.2px;width:519px;height:1px;background:#d9e6fb;"></div>
<div class="t" style="left:542.70px;top:452.41px;font-size:7.2px;color:#374151;letter-spacing:-0.033px;">8/31 12:20 EDT</div>
<div class="t" style="left:619.80px;top:452.41px;font-size:7.2px;color:#374151;letter-spacing:-0.033px;">Arrive At Final Dropoff</div>
<div class="t" style="left:721.50px;top:452.41px;font-size:7.2px;color:#374151;letter-spacing:-0.033px;">Brooksville, FL...</div>
<div class="t" style="left:782.50px;top:452.41px;font-size:7.2px;color:#374151;letter-spacing:-0.033px;">--</div>
<div class="t" style="left:815.10px;top:452.41px;font-size:7.2px;color:#374151;letter-spacing:-0.033px;">--</div>
<div class="t" style="left:846.00px;top:452.41px;font-size:7.2px;color:#374151;letter-spacing:-0.033px;">On time</div>
<div class="t" style="left:884.10px;top:452.41px;font-size:7.2px;color:#374151;letter-spacing:-0.033px;">10:05</div>
<div class="t" style="left:915.60px;top:452.41px;font-size:7.2px;color:#374151;letter-spacing:-0.033px;">13:05</div>
<div class="t" style="left:947.30px;top:452.41px;font-size:7.2px;color:#374151;letter-spacing:-0.033px;">06:26</div>
<div class="t" style="left:978.70px;top:452.41px;font-size:7.2px;color:#374151;letter-spacing:-0.033px;">07:12</div>
<div class="t" style="left:1016.90px;top:452.41px;font-size:7.2px;color:#374151;letter-spacing:-0.033px;">03:06</div>
<div class="b" style="left:533.5px;top:464.5px;width:519px;height:1px;background:#d9e6fb;"></div>
<div class="t" style="left:542.70px;top:470.71px;font-size:7.2px;color:#374151;letter-spacing:-0.033px;">8/31 13:20 EDT</div>
<div class="t" style="left:619.80px;top:470.71px;font-size:7.2px;color:#374151;letter-spacing:-0.033px;">Final Dropoff</div>
<div class="t" style="left:721.50px;top:470.71px;font-size:7.2px;color:#374151;letter-spacing:-0.033px;">Brooksville, FL...</div>
<div class="t" style="left:782.50px;top:470.71px;font-size:7.2px;color:#374151;letter-spacing:-0.033px;">01:00</div>
<div class="t" style="left:815.10px;top:470.71px;font-size:7.2px;color:#374151;letter-spacing:-0.033px;">--</div>
<div class="t" style="left:846.00px;top:470.71px;font-size:7.2px;color:#374151;letter-spacing:-0.033px;">--</div>
<div class="t" style="left:884.10px;top:470.71px;font-size:7.2px;color:#374151;letter-spacing:-0.033px;">10:05</div>
<div class="t" style="left:915.60px;top:470.71px;font-size:7.2px;color:#374151;letter-spacing:-0.033px;">12:05</div>
<div class="t" style="left:947.30px;top:470.71px;font-size:7.2px;color:#374151;letter-spacing:-0.033px;">05:26</div>
<div class="t" style="left:978.70px;top:470.71px;font-size:7.2px;color:#374151;letter-spacing:-0.033px;">07:12</div>
<div class="t" style="left:1016.90px;top:470.71px;font-size:7.2px;color:#374151;letter-spacing:-0.033px;">03:06</div>
<div class="b" style="left:534.5px;top:550.2px;width:517px;height:1px;background:#eef0f2;"></div>
<div class="b" style="left:996.5px;top:560px;width:47.3px;height:21px;background:#2563eb;border-radius:4px;"></div>
<div class="t" style="left:1006.00px;top:566.07px;font-size:8.3px;-webkit-text-stroke-width:0.16px;color:#ffffff;letter-spacing:-0.101px;">Preplan</div>
</body></html>
